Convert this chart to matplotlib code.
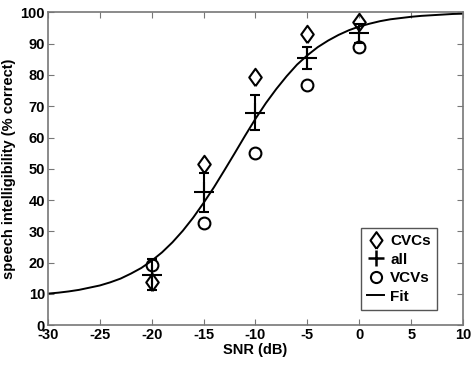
import matplotlib.pyplot as plt
from matplotlib.lines import Line2D
import numpy as np

snr = [-20, -15, -10, -5, 0]
cvcs = [13.7, 51.4, 79.4, 93.2, 97.0]
vcvs = [19.3, 32.6, 55.0, 76.8, 89.0]
all_mean = [16.1, 42.5, 68.0, 85.5, 93.3]
all_err = [5.0, 6.3, 5.6, 3.6, 3.0]

# fit curve
fit_x = [-30, -29, -28, -27, -26, -25, -24, -23, -22, -21, -20, -19, -18, -17,
         -16, -15, -14, -13, -12, -11, -10, -9, -8, -7, -6, -5, -4, -3, -2, -1,
         0, 1, 2, 3, 4, 5, 6, 7, 8, 9, 10]
fit_y = [10.1, 10.4, 10.8, 11.3, 12.0, 12.7, 13.7, 14.9, 16.5, 18.3, 20.6,
         23.3, 26.5, 30.2, 34.4, 39.1, 44.1, 49.5, 55.0, 60.6, 66.0,
         71.0, 75.5, 79.6, 83.3, 86.3, 88.9, 91.0, 92.8, 94.3,
         95.5, 96.4, 97.2, 97.8, 98.2, 98.6, 98.9, 99.1, 99.3, 99.5, 99.6]

plt.rcParams['font.family'] = ['Liberation Sans', 'DejaVu Sans']
plt.rcParams['font.weight'] = 'bold'
plt.rcParams['font.size'] = 10.5
plt.rcParams['axes.unicode_minus'] = False

diamond = [(0, -1), (0.72, 0), (0, 1), (-0.72, 0), (0, -1)]

fig = plt.figure(figsize=(4.74, 3.65), dpi=100)
ax = fig.add_axes([0.101, 0.109, 0.876, 0.857])

ax.plot(snr, cvcs, marker=diamond, ls='none', color='k', mfc='none', ms=12.5, mew=1.5)
ax.errorbar(snr, all_mean, yerr=all_err, fmt='+', color='k', ms=14, mew=1.5,
            elinewidth=1.5, capsize=3.5, capthick=1.5)
ax.plot(snr, vcvs, 'o', color='k', mfc='none', ms=8.5, mew=1.5)
ax.plot(fit_x, fit_y, '-', color='k', lw=1.4)

ax.set_xlim(-30, 10)
ax.set_ylim(0, 100)
ax.set_xticks(np.arange(-30, 11, 5))
ax.set_yticks(np.arange(0, 101, 10))
ax.tick_params(direction='in', top=True, right=True, length=4, color='#777777', pad=2)
for s in ax.spines.values():
    s.set_color('#777777')
    s.set_linewidth(1.2)

ax.set_xlabel('SNR (dB)', fontweight='bold', labelpad=1)
ax.set_ylabel('speech intelligibility (% correct)', fontweight='bold', labelpad=3)

handles = [
    Line2D([], [], marker=diamond, ls='none', color='k', mfc='none', ms=12, mew=1.5),
    Line2D([], [], marker='+', ls='none', color='k', ms=11, mew=1.8),
    Line2D([], [], marker='o', ls='none', color='k', mfc='none', ms=8, mew=1.5),
    Line2D([], [], ls='-', color='k', lw=1.4),
]
leg = ax.legend(handles, ['CVCs', 'all', 'VCVs', 'Fit'], loc='lower right',
                bbox_to_anchor=(0.937, 0.049), borderaxespad=0, fancybox=False,
                framealpha=1, edgecolor='#555555', handlelength=1.1,
                handletextpad=0.4, borderpad=0.4, labelspacing=0.3, fontsize=11)
leg.get_frame().set_linewidth(1.0)

fig.savefig('out.png', dpi=100)
